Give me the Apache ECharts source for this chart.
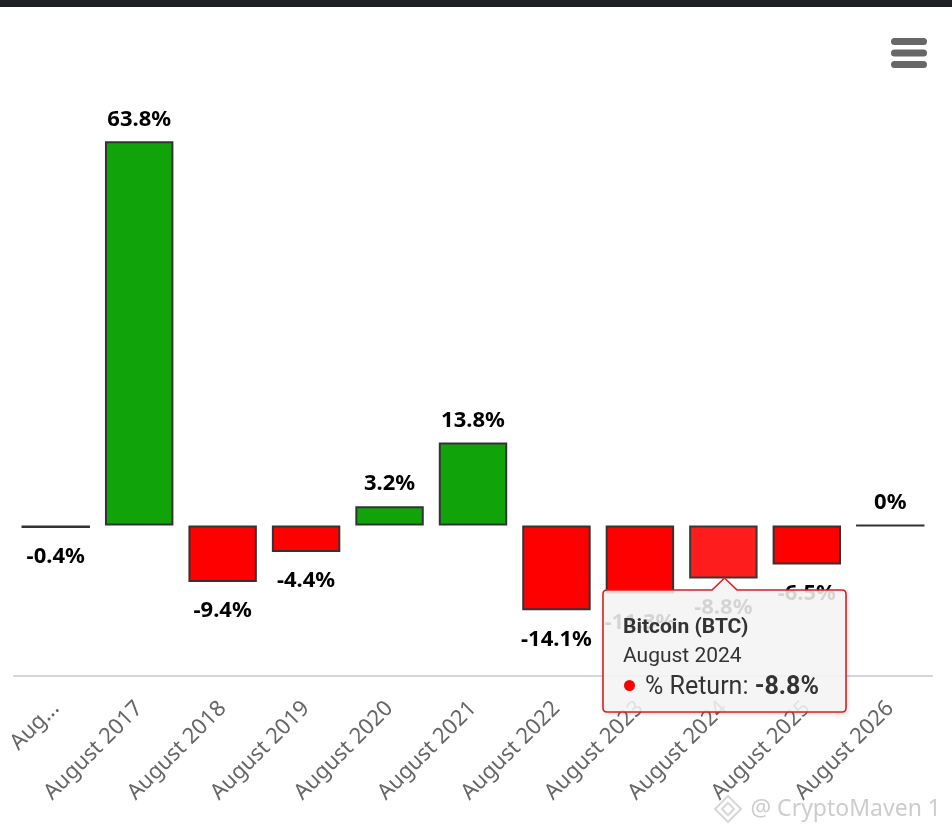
<!DOCTYPE html>
<html>
<head>
<meta charset="utf-8">
<script src="https://cdn.jsdelivr.net/npm/echarts@6/dist/echarts.min.js"></script>
<style>
  html, body { margin: 0; padding: 0; background: #ffffff; }
  #chart { width: 952px; height: 831px; }
</style>
</head>
<body>
<div id="chart"></div>
<script>
// ---- data ----
const seriesName = 'Bitcoin (BTC)';
const categories = ['August 2016', 'August 2017', 'August 2018', 'August 2019', 'August 2020', 'August 2021',
                    'August 2022', 'August 2023', 'August 2024', 'August 2025', 'August 2026'];
const returns = [-0.4, 63.8, -9.4, -4.4, 3.2, 13.8, -14.1, -11.3, -8.8, -6.5, 0];
const hoveredIndex = 8;

// ---- styles ----
const GREEN = '#11a30a', GREEN_HI = '#2bbd24';
const RED = '#ff0000', RED_HI = '#ff1c1c';

const chart = echarts.init(document.getElementById('chart'));

const barData = returns.map(v => ({
  value: v,
  itemStyle: { color: v > 0 ? GREEN : RED },
  emphasis: { itemStyle: { color: v > 0 ? GREEN_HI : RED_HI } },
  label: v < 0 ? { position: 'bottom', distance: 18 } : { position: 'top', distance: 11 }
}));

function tooltipHtml(p) {
  const svg =
    '<svg width="246" height="137" style="position:absolute;left:0;top:0;overflow:visible">' +
    '<path d="M5,13 L110,13 L122.5,1 L135,13 L240,13 Q244,13 244,17 L244,131 Q244,135 240,135 ' +
    'L5,135 Q1,135 1,131 L1,17 Q1,13 5,13 Z" fill="rgba(247,247,247,0.86)" stroke="#dd1d1d" stroke-width="1.6"/></svg>';
  const base = 'position:absolute;left:21px;white-space:nowrap;color:#333;font-family:Roboto,sans-serif;';
  return '<div style="position:relative;width:246px;height:137px;filter:drop-shadow(1px 2px 2px rgba(0,0,0,0.12));">' +
    svg +
    '<div style="' + base + 'top:37px;font-size:21px;line-height:24px;font-weight:bold;">' + p.seriesName + '</div>' +
    '<div style="' + base + 'top:66px;font-size:21px;line-height:24px;">' + p.name + '</div>' +
    '<div style="' + base + 'top:95px;font-size:25px;line-height:28px;">' +
      '<span style="display:inline-block;width:11px;height:11px;border-radius:50%;background:' + RED + ';margin:0 10px 3px 1px;vertical-align:middle;"></span>' +
      '% Return: <b>' + p.value + '%</b></div>' +
    '</div>';
}

chart.setOption({
  animation: false,
  backgroundColor: '#ffffff',
  grid: { left: 14, right: 20, top: 104, bottom: 155, containLabel: false },
  xAxis: {
    type: 'category',
    data: categories,
    boundaryGap: true,
    axisLine: { onZero: false, lineStyle: { color: '#d3d6e0', width: 2 } },
    axisTick: { show: false },
    axisLabel: {
      interval: 0,
      rotate: 45,
      margin: 29,
      color: '#666666',
      fontSize: 22,
      fontFamily: 'Noto Sans',
      formatter: (value, index) => index === 0 ? 'Aug...' : value
    }
  },
  yAxis: {
    type: 'value',
    min: -25,
    max: 70,
    show: false,
    splitLine: { show: false }
  },
  tooltip: {
    trigger: 'item',
    triggerOn: 'none',
    alwaysShowContent: true,
    transitionDuration: 0,
    padding: 0,
    borderWidth: 0,
    backgroundColor: 'transparent',
    extraCssText: 'box-shadow:none;',
    formatter: tooltipHtml,
    position: function (point, params, dom, rect, size) {
      return [rect.x + rect.width / 2 - 121, rect.y + rect.height - 1];
    }
  },
  series: [{
    name: seriesName,
    type: 'bar',
    data: barData,
    barCategoryGap: '18%',
    itemStyle: { borderColor: '#333333', borderWidth: 2 },
    emphasis: { focus: 'none', label: { show: true } },
    label: {
      show: true,
      color: '#000000',
      fontWeight: 'bold',
      fontSize: 22,
      fontFamily: 'Noto Sans',
      formatter: p => p.value + '%'
    }
  }],
  graphic: [
    { type: 'rect', left: 0, top: 0, shape: { width: 952, height: 7 }, style: { fill: '#1f2023' }, z: 100 },
    { type: 'rect', shape: { x: 891, y: 38, width: 36, height: 7, r: 3.5 }, style: { fill: '#676767' } },
    { type: 'rect', shape: { x: 891, y: 49.5, width: 36, height: 7, r: 3.5 }, style: { fill: '#676767' } },
    { type: 'rect', shape: { x: 891, y: 61, width: 36, height: 7, r: 3.5 }, style: { fill: '#676767' } },
    { type: 'polygon', shape: { points: [[728, 796], [741, 809], [728, 822], [715, 809]] },
      style: { fill: 'none', stroke: '#d8d8d8', lineWidth: 2 }, z: 50 },
    { type: 'polygon', shape: { points: [[728, 803], [734, 809], [728, 815], [722, 809]] },
      style: { fill: 'none', stroke: '#d8d8d8', lineWidth: 2 }, z: 50 },
    { type: 'text', x: 941, y: 809, z: 50,
      style: { text: '@ CryptoMaven 1', fill: '#cdcdcd', font: '23px "Noto Sans"', align: 'right', verticalAlign: 'middle',
               stroke: 'rgba(255,255,255,0.6)', lineWidth: 1 } }
  ]
});

chart.dispatchAction({ type: 'highlight', seriesIndex: 0, dataIndex: hoveredIndex });
chart.dispatchAction({ type: 'showTip', seriesIndex: 0, dataIndex: hoveredIndex });
</script>
</body>
</html>
